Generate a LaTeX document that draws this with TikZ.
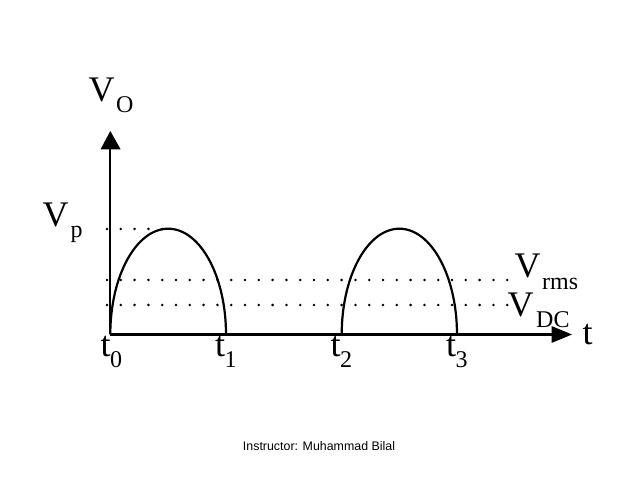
\documentclass[tikz,border=0pt]{standalone}
\usepackage{fontspec}
\setmainfont{Liberation Serif}
\newfontfamily\footfont{Liberation Sans}
\begin{document}
\begin{tikzpicture}[x=1pt,y=-1pt,
  axisline/.style={line width=2.2pt,black},
  tiphead/.style={fill=black,draw=none},
  wave/.style={line width=2.2pt,black},
  level/.style={line width=2.8pt,line cap=round,dash pattern=on 0pt off 13.8pt,black},
  big/.style={inner sep=0pt,anchor=base west,font=\fontsize{36}{36}\selectfont},
  small/.style={inner sep=0pt,anchor=base west,font=\fontsize{24}{24}\selectfont},
  foot/.style={inner sep=0pt,anchor=base,font=\footfont\fontsize{12.4}{13}\selectfont}]
\useasboundingbox (0,0) rectangle (638,478);
\fill[white] (0,0) rectangle (638,478);
\coordinate (O) at (110.3,334.5);
\coordinate (ytop) at (110.3,149);
\coordinate (xend) at (552,334.5);
\coordinate (t2p) at (341.7,334.5);
% dotted levels
\coordinate (pa) at (107,229); \coordinate (pb) at (168,229);
\coordinate (ra) at (107,280); \coordinate (rb) at (512,280);
\coordinate (da) at (107,305); \coordinate (db) at (512,305);
\draw[level] (pa) -- (pb);
\draw[level] (ra) -- (rb);
\draw[level] (da) -- (db);
% axes
\draw[axisline] (O) -- (ytop);
\draw[axisline] (O) -- (xend);
\fill[tiphead] (100.5,149.5) -- (110.3,131) -- (120.7,149.5) -- cycle;
\fill[tiphead] (551.5,326) -- (572,334.5) -- (551.5,343) -- cycle;
% half waves
\draw[wave] (O) arc[start angle=180,end angle=360,x radius=57.85,y radius=105.8];
\draw[wave] (t2p) arc[start angle=180,end angle=360,x radius=57.65,y radius=105.8];
% labels
\node[big] (vo) at (88.5,102) {V};
\node[small] (vosub) at (116,113) {O};
\node[big] (vp) at (42.5,227) {V};
\node[small] (vpsub) at (70.5,238) {p};
\node[big] (vr) at (514.5,278) {V};
\node[small] (vrsub) at (542,290) {rms};
\node[big] (vd) at (507.5,316.5) {V};
\node[small] (vdsub) at (536,328) {DC};
\node[big] (t) at (582.5,345) {t};
\node[big] (t0) at (100.5,357) {t};
\node[small] (t0s) at (110,368) {0};
\node[big] (t1) at (215,357) {t};
\node[small] (t1s) at (224.5,368) {1};
\node[big] (t2) at (330.5,357) {t};
\node[small] (t2s) at (340,368) {2};
\node[big] (t3) at (446,357) {t};
\node[small] (t3s) at (455.5,368) {3};
\node[foot] (instr) at (319,451) {Instructor: Muhammad Bilal};
\end{tikzpicture}
\end{document}
